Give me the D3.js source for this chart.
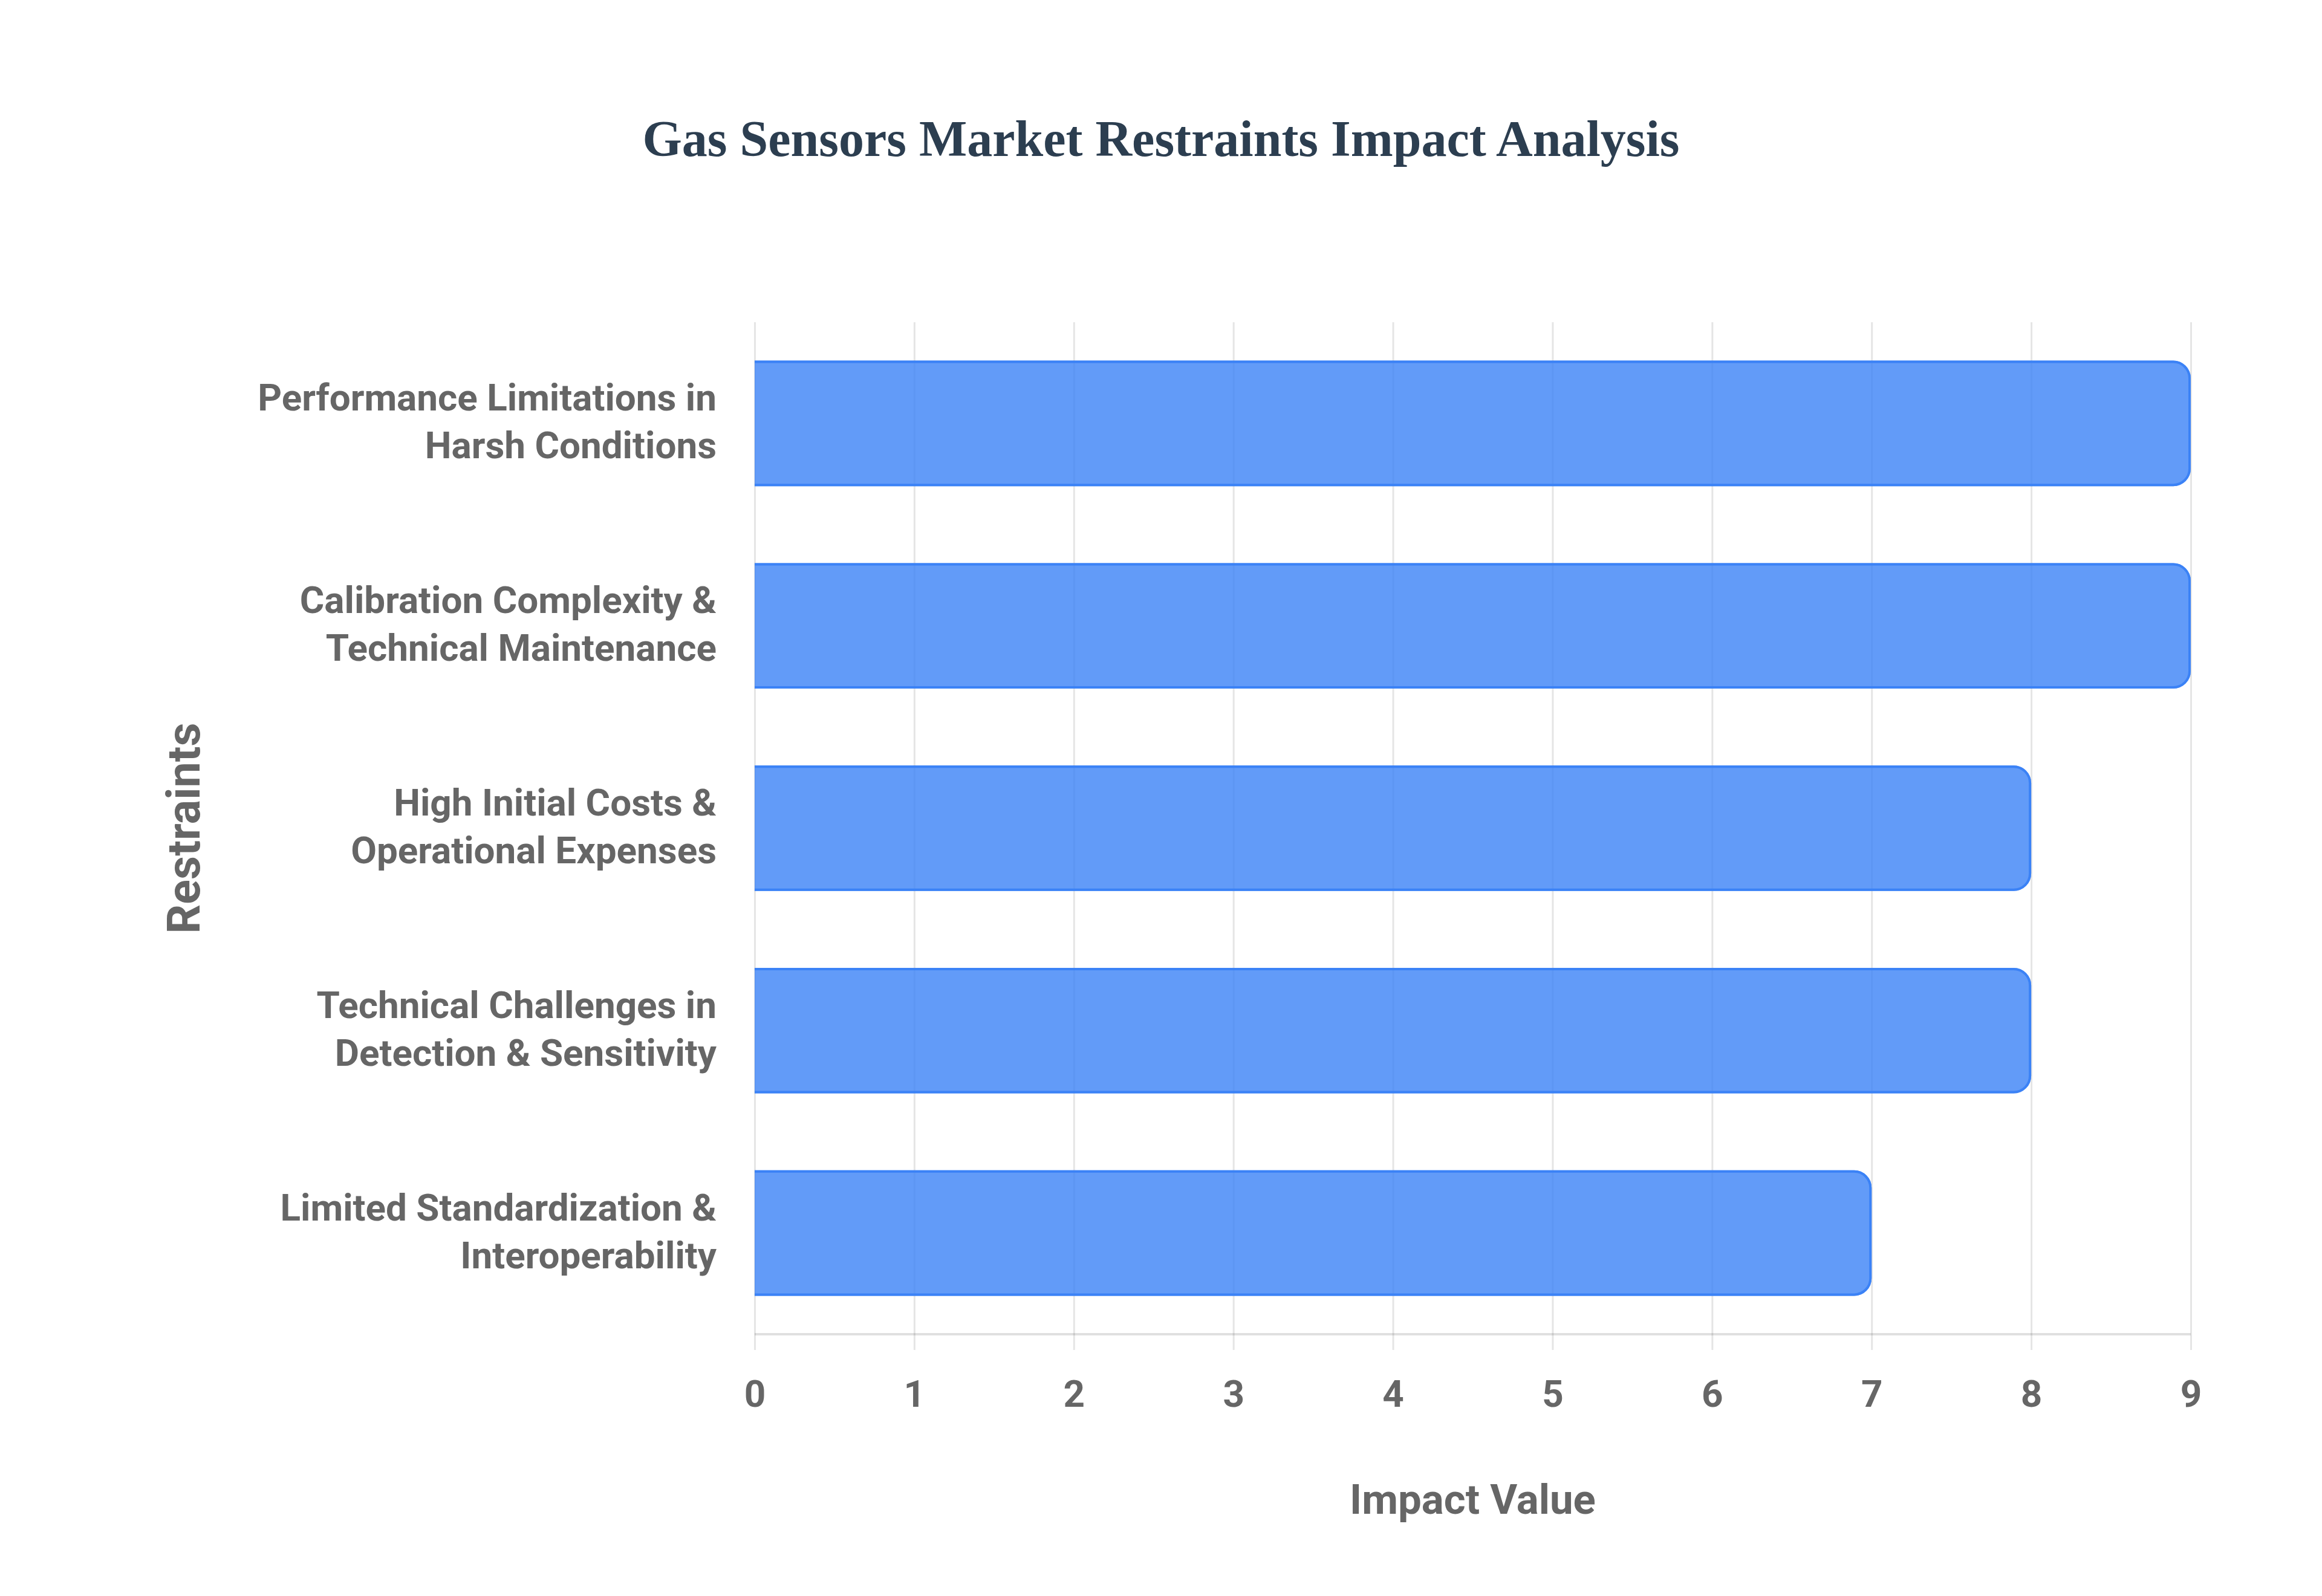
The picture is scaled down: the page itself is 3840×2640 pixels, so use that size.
<!DOCTYPE html>
<html>
<head>
<meta charset="utf-8">
<script src="https://cdn.jsdelivr.net/npm/d3@7"></script>
<style>
  html, body { margin: 0; padding: 0; background: #ffffff; }
  svg { display: block; }
</style>
</head>
<body>
<svg id="chart" width="3840" height="2640"></svg>
<script>
// ---------- data ----------
const categories = [
  "Performance Limitations in Harsh Conditions",
  "Calibration Complexity & Technical Maintenance",
  "High Initial Costs & Operational Expenses",
  "Technical Challenges in Detection & Sensitivity",
  "Limited Standardization & Interoperability"
];
const labelLines = [
  ["Performance Limitations in", "Harsh Conditions"],
  ["Calibration Complexity &", "Technical Maintenance"],
  ["High Initial Costs &", "Operational Expenses"],
  ["Technical Challenges in", "Detection & Sensitivity"],
  ["Limited Standardization &", "Interoperability"]
];
const values = [9, 9, 8, 8, 7];
const xTicks = [0, 1, 2, 3, 4, 5, 6, 7, 8, 9];
const chartTitle = "Gas Sensors Market Restraints Impact Analysis";
const xTitle = "Impact Value";
const yTitle = "Restraints";

// ---------- layout ----------
const W = 3840, H = 2640;
const plot = { left: 1248, right: 3623, top: 533, bottom: 2207 };
const sans = "Roboto, 'Liberation Sans', Arial, sans-serif";
const serif = "'Liberation Serif', 'Times New Roman', serif";
const labelColor = "#666666";

const svg = d3.select("#chart");

const x = d3.scaleLinear().domain([0, 9]).range([plot.left, plot.right]);
const y = d3.scaleBand().domain(categories)
  .range([plot.top, plot.bottom])
  .paddingInner(0.38).paddingOuter(0.19);

// ---------- grid ----------
const grid = svg.append("g")
  .attr("transform", `translate(0,${plot.top})`)
  .call(d3.axisBottom(x).tickValues(xTicks).tickFormat("").tickSize(plot.bottom - plot.top + 26));
grid.select(".domain").remove();
grid.selectAll(".tick line").attr("stroke", "rgba(0,0,0,0.1)").attr("stroke-width", 3);

// x axis line
svg.append("line")
  .attr("x1", plot.left).attr("x2", plot.right)
  .attr("y1", plot.bottom).attr("y2", plot.bottom)
  .attr("stroke", "rgba(0,0,0,0.12)").attr("stroke-width", 4);

// ---------- bars ----------
const r = 29, bw = 4;
const bars = svg.append("g");
categories.forEach((c, i) => {
  const x0 = x(0), x1 = x(values[i]);
  const y0 = y(c), h = y.bandwidth();
  const fillPath = `M${x0},${y0} H${x1 - r} A${r},${r} 0 0 1 ${x1},${y0 + r} V${y0 + h - r} A${r},${r} 0 0 1 ${x1 - r},${y0 + h} H${x0} Z`;
  bars.append("path").attr("d", fillPath).attr("fill", "rgba(59,130,246,0.8)");
  const ri = r - bw / 2;
  const t = y0 + bw / 2, b = y0 + h - bw / 2, rr = x1 - bw / 2;
  const strokePath = `M${x0},${t} H${rr - ri} A${ri},${ri} 0 0 1 ${rr},${t + ri} V${b - ri} A${ri},${ri} 0 0 1 ${rr - ri},${b} H${x0}`;
  bars.append("path").attr("d", strokePath).attr("fill", "none")
    .attr("stroke", "#3B82F6").attr("stroke-width", bw);
});

// ---------- x tick labels ----------
const xAxis = svg.append("g")
  .attr("transform", `translate(0,${plot.bottom})`)
  .call(d3.axisBottom(x).tickValues(xTicks).tickFormat(d3.format("d")).tickSize(0));
xAxis.select(".domain").remove();
xAxis.selectAll("text")
  .attr("y", 120).attr("dy", 0)
  .attr("fill", labelColor)
  .style("font-family", sans).style("font-weight", "700").style("font-size", "62px");

// ---------- y category labels ----------
const yLab = svg.append("g");
categories.forEach((c, i) => {
  const cy = y(c) + y.bandwidth() / 2;
  const t = yLab.append("text")
    .attr("text-anchor", "end")
    .attr("fill", labelColor)
    .style("font-family", sans).style("font-weight", "700").style("font-size", "62px");
  labelLines[i].forEach((line, j) => {
    t.append("tspan").attr("x", 1185).attr("y", cy - 21 + j * 79).text(line);
  });
});

// ---------- titles ----------
svg.append("text")
  .attr("x", 1920).attr("y", 258)
  .attr("text-anchor", "middle")
  .attr("fill", "#2c3e50")
  .style("font-family", serif).style("font-weight", "700").style("font-size", "84px")
  .text(chartTitle);

svg.append("text")
  .attr("x", (plot.left + plot.right) / 2).attr("y", 2504)
  .attr("text-anchor", "middle")
  .attr("fill", labelColor)
  .style("font-family", sans).style("font-weight", "700").style("font-size", "69px")
  .text(xTitle);

svg.append("text")
  .attr("transform", `translate(330,${(plot.top + plot.bottom) / 2}) rotate(-90)`)
  .attr("text-anchor", "middle")
  .attr("fill", labelColor)
  .style("font-family", sans).style("font-weight", "700").style("font-size", "76px")
  .text(yTitle);
</script>
</body>
</html>
